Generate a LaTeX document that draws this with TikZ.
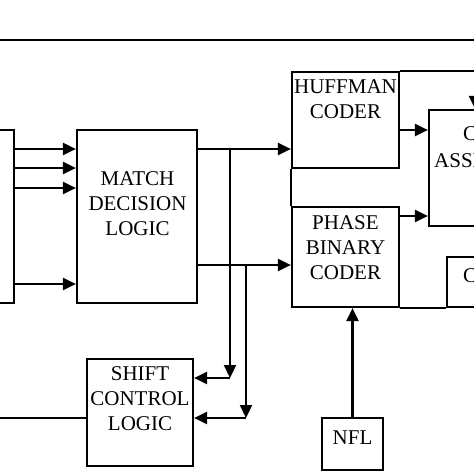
\documentclass[tikz,border=0pt]{standalone}
\usepackage{fontspec}
\setmainfont{Liberation Serif}
\usetikzlibrary{arrows.meta}

\begin{document}
\begin{tikzpicture}[x=1pt, y=-1pt,
  box/.style={draw, line width=2.2pt, inner sep=0pt},
  txt/.style={align=center, inner sep=0pt, font=\fontsize{21}{25}\selectfont},
  wire/.style={line width=2.2pt},
  arr/.style={line width=2.2pt, -{Triangle[length=13pt, width=12pt]}}]
  \clip (0,0) rectangle (474,474);
  % top rule
  \coordinate (r1) at (0,40);
  \coordinate (r2) at (474,40);
  \draw[wire] (r1) -- (r2);
  % blocks
  \node[box, minimum width=40, minimum height=173] (src) at (-6,216.5) {};
  \node[box, minimum width=120, minimum height=173] (match) at (137,216.5) {};
  \node[txt] (matchtxt) at (137.5,203.5) {MATCH\\DECISION\\LOGIC};
  \node[box, minimum width=107, minimum height=96] (huff) at (345.5,120) {};
  \node[txt] (hufftxt) at (345.5,99.5) {HUFFMAN\\CODER};
  \node[box, minimum width=107, minimum height=100] (phase) at (345.5,257) {};
  \node[txt] (phasetxt) at (345.5,248) {PHASE\\BINARY\\CODER};
  \node[box, minimum width=92, minimum height=116] (asm) at (475,168) {};
  \node[txt, anchor=west] (asmtxt1) at (463,134) {C};
  \node[txt, anchor=west] (asmtxt2) at (434,161) {ASSE};
  \node[box, minimum width=80, minimum height=50] (cbox) at (487,282) {};
  \node[txt, anchor=west] (cboxtxt) at (463,276) {C};
  \node[box, minimum width=106, minimum height=107] (shift) at (140,412.5) {};
  \node[txt] (shifttxt) at (140,399) {SHIFT\\CONTROL\\LOGIC};
  \node[box, minimum width=61, minimum height=52] (nfl) at (352.5,444) {};
  \node[txt] (nfltxt) at (352.5,437.5) {NFL};
  % inputs to match logic
  \foreach \y/\n in {149/1, 168/2, 188/3, 284/4} {
    \coordinate (in\n) at (40,\y);
    \draw[arr] (src.east |- in\n) -- (match.west |- in\n);
  }
  % match logic to coders
  \coordinate (j1) at (230,149);
  \coordinate (j2) at (246,265);
  \coordinate (k1) at (230,378);
  \coordinate (k2) at (246,418);
  \draw[arr] (match.east |- j1) -- (huff.west |- j1);
  \draw[arr] (match.east |- j2) -- (phase.west |- j2);
  \draw[wire] (huff.south west) -- (phase.north west);
  % feedback to shift control
  \draw[arr] (j1) -- (k1);
  \draw[arr] (k1) -- (shift.east |- k1);
  \draw[arr] (j2) -- (k2);
  \draw[arr] (k2) -- (shift.east |- k2);
  \coordinate (s0) at (0,418);
  \draw[wire] (s0) -- (shift.west |- s0);
  % coders to assembler
  \coordinate (h1) at (414,130);
  \coordinate (h2) at (414,216);
  \draw[arr] (huff.east |- h1) -- (asm.west |- h1);
  \draw[arr] (phase.east |- h2) -- (asm.west |- h2);
  \draw[arr] (huff.north east) -| (asm.north);
  \draw[wire] (phase.south east) -- (cbox.south west);
  % nfl
  \draw[arr] (nfl.north) -- (nfl.north |- phase.south);
\end{tikzpicture}
\end{document}
